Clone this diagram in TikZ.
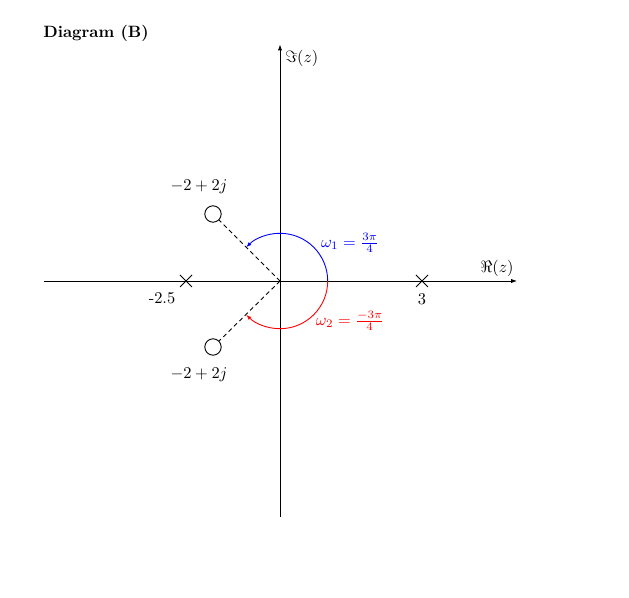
\documentclass[tikz,border=0pt]{standalone}
\usetikzlibrary{arrows.meta}
\begin{document}
\begin{tikzpicture}[x=0.61pt,y=0.61pt,
  axis/.style={line width=0.5pt,-{Latex[length=3.6pt,width=2.6pt]}},
  zero/.style={circle,draw,line width=0.55pt,minimum size=10pt,inner sep=0pt},
  pole/.style={line width=0.55pt},
  guide/.style={dashed,dash pattern=on 2.6pt off 2pt,line width=0.55pt},
  turn/.style={line width=0.55pt,-{Latex[length=3.2pt,width=2.4pt]}},
  lbl/.style={inner sep=0pt}]
\useasboundingbox (0,0) rectangle (629,598);
\node[lbl,anchor=west] (title) at (43,565) {\bfseries Diagram (B)};
\coordinate (O) at (280,317);
\coordinate (xs) at (44,317);
\coordinate (xe) at (517,317);
\coordinate (ys) at (280,81);
\coordinate (ye) at (280,553.5);
\draw[axis] (xs) -- (xe);
\draw[axis] (ys) -- (ye);
\node[lbl,anchor=west] (imlab) at (285,540) {$\Im(z)$};
\node[lbl] (relab) at (497,330) {$\Re(z)$};
% poles
\coordinate (pa) at (186,317);
\coordinate (pb) at (422,317);
\draw[pole] ([shift={(-6,-6)}]pa) -- ([shift={(6,6)}]pa) ([shift={(-6,6)}]pa) -- ([shift={(6,-6)}]pa);
\draw[pole] ([shift={(-6,-6)}]pb) -- ([shift={(6,6)}]pb) ([shift={(-6,6)}]pb) -- ([shift={(6,-6)}]pb);
\node[lbl] (la) at (162,300) {-2.5};
\node[lbl] (lb) at (422,299) {3};
% zeros
\node[zero] (z1) at (213,384) {};
\node[zero] (z2) at (213,251) {};
\draw[guide] (O) -- (z1);
\draw[guide] (O) -- (z2);
\node[lbl] (l1) at (199,411) {$-2+2j$};
\node[lbl] (l2) at (199,223) {$-2+2j$};
% arcs
\coordinate (as) at (327.7,317);
\draw[turn,blue] (as) arc[start angle=0,end angle=135,radius=29.1pt];
\draw[turn,red] (as) arc[start angle=0,end angle=-135,radius=29.1pt];
\node[lbl,blue] (w1) at (350,355) {$\omega_1=\frac{3\pi}{4}$};
\node[lbl,red] (w2) at (350,277) {$\omega_2=\frac{-3\pi}{4}$};
\end{tikzpicture}
\end{document}
